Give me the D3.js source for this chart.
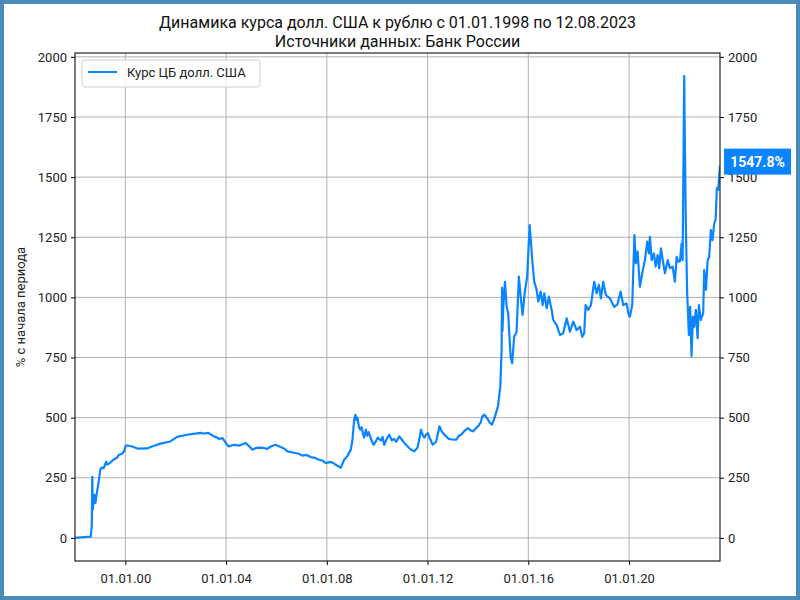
<!DOCTYPE html>
<html>
<head>
<meta charset="utf-8">
<script src="https://cdn.jsdelivr.net/npm/d3@7"></script>
<style>
  html, body { margin: 0; padding: 0; background: #ffffff; }
  svg { display: block; font-family: Roboto, "DejaVu Sans", sans-serif; }
</style>
</head>
<body>
<svg id="chart" width="800" height="600"></svg>
<script>
// курс доллара ЦБ, % изменения от 01.01.1998
var dates = [
  "1998-01-01","1998-08-17","1998-09-01","1998-09-09","1998-09-15","1998-10-10","1998-10-25","1998-11-14","1998-12-08",
  "1999-01-02","1999-01-20","1999-02-22","1999-03-29","1999-04-15","1999-05-27","1999-07-09","1999-09-01","1999-09-28","1999-11-13","1999-12-15",
  "2000-01-01","2000-01-25","2000-04-06","2000-07-07","2000-11-11",
  "2001-01-23","2001-05-23","2001-10-16",
  "2002-01-21","2002-06-16","2002-12-26",
  "2003-02-20","2003-04-21","2003-07-07","2003-08-20","2003-09-18","2003-11-10",
  "2004-01-17","2004-02-10","2004-04-22","2004-07-15","2004-10-10","2004-11-22",
  "2005-01-16","2005-02-20","2005-04-05","2005-07-02","2005-08-20","2005-10-08","2005-12-20",
  "2006-03-02","2006-04-20","2006-06-08","2006-09-12","2006-11-20",
  "2007-01-12","2007-03-10","2007-05-13","2007-07-10","2007-09-10","2007-10-25","2007-12-17",
  "2008-02-27","2008-04-01","2008-05-10","2008-07-22","2008-09-08","2008-10-22","2008-12-14",
  "2009-01-07","2009-02-01","2009-02-19","2009-03-05","2009-03-20","2009-04-10","2009-04-27","2009-05-20","2009-06-10","2009-06-25","2009-07-20","2009-08-10","2009-08-30","2009-10-05","2009-11-09","2009-12-10",
  "2010-01-07","2010-02-22","2010-03-20","2010-04-12","2010-05-25","2010-06-24","2010-08-01","2010-08-30","2010-10-05","2010-11-17","2010-12-20",
  "2011-01-29","2011-03-01","2011-04-10","2011-05-15","2011-06-22","2011-08-07","2011-09-10","2011-09-28","2011-10-20","2011-11-15","2011-12-10",
  "2012-01-04","2012-02-10","2012-03-16","2012-05-03","2012-06-05","2012-06-20","2012-07-29","2012-09-01","2012-09-26","2012-11-01","2012-12-08",
  "2013-02-19","2013-04-01","2013-05-02","2013-06-20","2013-08-08","2013-09-10","2013-10-20","2013-12-01",
  "2014-01-01","2014-02-10","2014-03-05","2014-04-07","2014-05-26","2014-06-20","2014-07-23","2014-08-29","2014-10-18","2014-11-21","2014-12-10","2014-12-16","2014-12-22",
  "2015-01-03","2015-01-27","2015-02-21","2015-03-15","2015-04-19","2015-05-12","2015-06-10","2015-07-15","2015-08-17","2015-09-15","2015-10-10","2015-11-12","2015-12-15",
  "2016-01-21","2016-02-08","2016-02-27","2016-03-27","2016-05-01","2016-05-24","2016-06-28","2016-07-27","2016-08-19","2016-09-23","2016-10-26","2016-12-04","2016-12-28",
  "2017-02-15","2017-04-04","2017-05-22","2017-07-10","2017-08-27","2017-10-14","2017-12-02",
  "2018-01-19","2018-02-21","2018-03-22","2018-04-11","2018-05-18","2018-06-27","2018-08-14","2018-09-18","2018-10-21","2018-11-19","2018-12-22",
  "2019-01-30","2019-03-29","2019-05-30","2019-07-16","2019-09-01","2019-10-09","2019-11-24","2019-12-31",
  "2020-01-14","2020-02-16","2020-03-19","2020-04-09","2020-05-04","2020-06-06","2020-07-10","2020-08-18","2020-09-21","2020-10-15","2020-10-30","2020-11-24","2020-12-27",
  "2021-01-21","2021-02-19","2021-03-14","2021-04-08","2021-05-11","2021-06-05","2021-07-14","2021-08-16","2021-09-24","2021-10-27","2021-11-21","2021-12-14",
  "2022-01-08","2022-02-02","2022-02-16","2022-03-11","2022-03-20","2022-04-04","2022-04-23","2022-05-18","2022-06-05","2022-06-25","2022-07-15","2022-08-03","2022-08-27","2022-09-21","2022-10-10","2022-11-08","2022-12-11","2022-12-26",
  "2023-01-20","2023-02-14","2023-03-08","2023-04-02","2023-04-26","2023-05-20","2023-06-09","2023-06-28","2023-07-17","2023-08-12"
];
var values = [
  0,5,47,254,117,179,146,187,229,
  283,292,290,317,305,312,325,333,345,350,360,
  380,385,380,371,372,
  380,392,401,
  420,429,437,
  434,437,422,418,412,415,
  387,380,387,384,395,383,
  367,372,375,374,370,380,387,
  378,372,360,354,350,
  342,345,336,333,325,322,311,
  316,312,304,292,325,339,367,
  408,492,512,490,500,462,450,460,430,417,450,425,440,410,387,400,
  417,405,420,387,415,429,405,412,400,422,410,
  395,385,374,365,360,375,420,450,430,417,430,
  436,410,387,400,440,464,440,430,422,412,410,
  408,425,429,445,457,448,443,455,
  464,480,505,512,492,480,471,499,547,630,783,1040,860,
  961,1065,961,934,753,726,836,857,1086,996,927,1024,1086,
  1301,1232,1155,1065,1031,982,1024,968,1017,955,1003,948,906,
  885,844,851,913,857,899,864,
  878,836,851,968,948,968,1065,1017,1052,996,1065,
  1010,996,961,970,1024,968,975,923,
  920,968,1259,1142,1190,1044,1100,1155,1232,1183,1252,1155,1183,
  1128,1176,1121,1204,1142,1100,1155,1121,1128,1065,1169,1148,
  1150,1225,1155,1920,1654,1294,1017,844,961,756,920,878,948,830,968,906,934,1114,
  1031,1155,1169,1280,1238,1308,1322,1454,1447,1547.8
];
var y_ticks = [0, 250, 500, 750, 1000, 1250, 1500, 1750, 2000];
var x_tick_years = [2000, 2004, 2008, 2012, 2016, 2020];
var series_name = "Курс ЦБ долл. США";
var last_label = "1547.8%";

var line_color = "#0a84ff";
var svg = d3.select("#chart");
var W = 800, H = 600;
var p_left = 75, p_right = 720, p_top = 53, p_bottom = 561;

var parse = d3.timeParse("%Y-%m-%d");
var data = [];
for (var i = 0; i < dates.length; i++)
{
    data.push({ d: parse(dates[i]), v: values[i] });
}

var x = d3.scaleTime()
    .domain([parse("1998-01-01"), parse("2023-08-12")])
    .range([p_left, p_right]);
var y = d3.scaleLinear()
    .domain([-96, 2016])
    .range([p_bottom, p_top]);

// frame
svg.append("rect").attr("x", 0).attr("y", 0).attr("width", W).attr("height", H).attr("fill", "#4a8cb9");
svg.append("rect").attr("x", 4).attr("y", 4).attr("width", W - 8).attr("height", H - 8).attr("fill", "#ffffff");

// grid
var x_ticks = x_tick_years.map(function(yr) { return new Date(yr, 0, 1); });
svg.append("g").selectAll("line").data(y_ticks).enter().append("line")
    .attr("x1", p_left).attr("x2", p_right)
    .attr("y1", function(d) { return y(d); }).attr("y2", function(d) { return y(d); })
    .attr("stroke", "#b0b0b0").attr("stroke-width", 1);
svg.append("g").selectAll("line").data(x_ticks).enter().append("line")
    .attr("y1", p_top).attr("y2", p_bottom)
    .attr("x1", function(d) { return x(d); }).attr("x2", function(d) { return x(d); })
    .attr("stroke", "#b0b0b0").attr("stroke-width", 1);

// line
svg.append("clipPath").attr("id", "clip").append("rect")
    .attr("x", p_left).attr("y", p_top).attr("width", p_right - p_left).attr("height", p_bottom - p_top);
svg.append("path")
    .datum(data)
    .attr("clip-path", "url(#clip)")
    .attr("fill", "none")
    .attr("stroke", line_color)
    .attr("stroke-width", 2.2)
    .attr("stroke-linejoin", "round")
    .attr("d", d3.line().x(function(d) { return x(d.d); }).y(function(d) { return y(d.v); }));

// axes
var fmt = d3.timeFormat("%d.%m.%y");
var gx = svg.append("g").attr("transform", "translate(0," + p_bottom + ")")
    .call(d3.axisBottom(x).tickValues(x_ticks).tickFormat(fmt).tickSize(4).tickSizeOuter(0));
var gl = svg.append("g").attr("transform", "translate(" + p_left + ",0)")
    .call(d3.axisLeft(y).tickValues(y_ticks).tickFormat(d3.format("d")).tickSize(4).tickSizeOuter(0));
var gr = svg.append("g").attr("transform", "translate(" + p_right + ",0)")
    .call(d3.axisRight(y).tickValues(y_ticks).tickFormat(d3.format("d")).tickSize(4).tickSizeOuter(0));
[gx, gl, gr].forEach(function(g)
{
    g.select(".domain").remove();
    g.selectAll("line").attr("stroke", "#000");
    g.selectAll("text").attr("font-size", 13).attr("font-family", "Roboto, sans-serif").attr("fill", "#222");
});
gx.selectAll("text").attr("dy", "1.15em");
gl.selectAll("text").attr("x", -8);
gr.selectAll("text").attr("x", 8);

svg.append("rect").attr("x", p_left).attr("y", p_top).attr("width", p_right - p_left).attr("height", p_bottom - p_top)
    .attr("fill", "none").attr("stroke", "#222").attr("stroke-width", 1.2);

// titles
svg.append("text").attr("x", (p_left + p_right) / 2).attr("y", 28).attr("text-anchor", "middle")
    .attr("font-size", 16).attr("fill", "#111")
    .text("Динамика курса долл. США к рублю с 01.01.1998 по 12.08.2023");
svg.append("text").attr("x", (p_left + p_right) / 2).attr("y", 47).attr("text-anchor", "middle")
    .attr("font-size", 16).attr("fill", "#111")
    .text("Источники данных: Банк России");
svg.append("text").attr("transform", "translate(25," + ((p_top + p_bottom) / 2) + ") rotate(-90)")
    .attr("text-anchor", "middle").attr("font-size", 13).attr("fill", "#222")
    .text("% с начала периода");

// legend
svg.append("rect").attr("x", 82).attr("y", 60).attr("width", 178).attr("height", 27).attr("rx", 3)
    .attr("fill", "#fff").attr("fill-opacity", 0.85).attr("stroke", "#d0d0d0");
svg.append("line").attr("x1", 88).attr("x2", 117).attr("y1", 72).attr("y2", 72)
    .attr("stroke", line_color).attr("stroke-width", 2);
svg.append("text").attr("x", 127).attr("y", 77).attr("font-size", 13).attr("fill", "#222").text(series_name);

// last value label
var last = data[data.length - 1];
svg.append("rect").attr("x", 724).attr("y", y(last.v) - 17).attr("width", 67).attr("height", 26)
    .attr("fill", line_color);
svg.append("text").attr("x", 757.5).attr("y", y(last.v) + 1).attr("text-anchor", "middle")
    .attr("font-size", 14).attr("font-weight", "bold").attr("fill", "#fff").text(last_label);
</script>
</body>
</html>
